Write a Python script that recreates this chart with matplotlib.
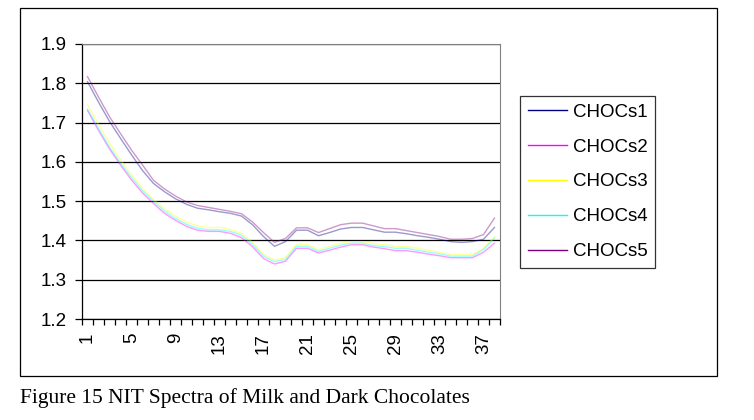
import numpy as np
import matplotlib.pyplot as plt
from matplotlib.patches import Rectangle
from matplotlib.lines import Line2D

plt.rcParams['font.family'] = ['Liberation Sans', 'DejaVu Sans']

# kategorier langs x-aksen
categories = list(range(1, 39))

# måleserier lest av figuren
chocs1 = [1.804, 1.752, 1.703, 1.660, 1.618, 1.578, 1.545, 1.524, 1.506, 1.492,
          1.482, 1.478, 1.473, 1.469, 1.462, 1.440, 1.410, 1.385, 1.397, 1.426,
          1.426, 1.412, 1.420, 1.429, 1.433, 1.433, 1.427, 1.421, 1.421, 1.417,
          1.412, 1.408, 1.403, 1.397, 1.395, 1.397, 1.403, 1.433]
chocs2 = [1.731, 1.680, 1.633, 1.592, 1.554, 1.521, 1.494, 1.469, 1.451, 1.436,
          1.426, 1.423, 1.423, 1.418, 1.407, 1.384, 1.354, 1.340, 1.347, 1.380,
          1.380, 1.368, 1.375, 1.383, 1.389, 1.389, 1.383, 1.379, 1.374, 1.374,
          1.370, 1.365, 1.361, 1.356, 1.356, 1.356, 1.370, 1.393]
chocs3 = [1.745, 1.695, 1.648, 1.605, 1.567, 1.533, 1.504, 1.481, 1.462, 1.447,
          1.437, 1.433, 1.433, 1.428, 1.418, 1.395, 1.365, 1.350, 1.357, 1.390,
          1.390, 1.376, 1.385, 1.393, 1.397, 1.397, 1.392, 1.389, 1.385, 1.385,
          1.380, 1.375, 1.370, 1.365, 1.364, 1.364, 1.380, 1.409]
chocs4 = [1.734, 1.685, 1.638, 1.597, 1.560, 1.527, 1.500, 1.475, 1.456, 1.441,
          1.431, 1.427, 1.427, 1.423, 1.413, 1.390, 1.360, 1.346, 1.352, 1.385,
          1.385, 1.372, 1.380, 1.388, 1.393, 1.393, 1.387, 1.384, 1.380, 1.380,
          1.375, 1.370, 1.366, 1.360, 1.360, 1.360, 1.377, 1.406]
chocs5 = [1.817, 1.765, 1.715, 1.672, 1.630, 1.592, 1.553, 1.531, 1.513, 1.498,
          1.489, 1.484, 1.479, 1.474, 1.468, 1.447, 1.420, 1.395, 1.405, 1.432,
          1.432, 1.420, 1.430, 1.440, 1.444, 1.444, 1.437, 1.430, 1.430, 1.425,
          1.420, 1.415, 1.410, 1.403, 1.403, 1.405, 1.415, 1.457]

series = [chocs1, chocs2, chocs3, chocs4, chocs5]
names = ['CHOCs1', 'CHOCs2', 'CHOCs3', 'CHOCs4', 'CHOCs5']
colors = ['#000080', '#ff00ff', '#ffff00', '#00ffff', '#800080']

W, H = 754, 420
fs = 13.5
fig = plt.figure(figsize=(W / 100, H / 100), dpi=100)

# ytre ramme rundt diagrammet
fig.patches.append(Rectangle((20 / W, 1 - 376 / H), 697 / W, 368 / H,
                             transform=fig.transFigure, fill=False,
                             edgecolor='black', lw=0.9))

ax = fig.add_axes([82 / W, 1 - 319 / H, 418 / W, 275 / H])
x = np.arange(len(categories))
for vals, col in zip(series, colors):
    ax.plot(x, vals, color=col, lw=1.0, alpha=0.4)

ax.set_xlim(-0.5, len(categories) - 0.5)
ax.set_ylim(1.2, 1.9)

yt = np.arange(1.2, 1.91, 0.1)
ax.set_yticks(yt)
ax.set_yticklabels(['%.1f' % v for v in yt], fontsize=fs)
ax.yaxis.grid(True, color='black', lw=0.9)
ax.set_axisbelow(True)
ax.tick_params(axis='y', direction='out', length=5, width=0.9, pad=6)

# skillestreker mellom kategoriene, etiketter på hver fjerde
ax.set_xticks(np.arange(-0.5, len(categories), 1))
ax.set_xticklabels([])
ax.tick_params(axis='x', which='major', direction='out', length=4, width=0.9)
ax.set_xticks(x[::4], minor=True)
ax.set_xticklabels([str(c) for c in categories[::4]], minor=True,
                   rotation=90, fontsize=fs)
ax.tick_params(axis='x', which='minor', length=0, pad=10)

for s in ['top', 'right']:
    ax.spines[s].set_color('#808080')
for s in ['left', 'bottom']:
    ax.spines[s].set_color('black')
    ax.spines[s].set_linewidth(0.9)

handles = [Line2D([], [], color=c, lw=1.0) for c in colors]
leg = fig.legend(handles, names, loc='upper left',
                 bbox_to_anchor=(520 / W, 1 - 96 / H), fontsize=fs,
                 frameon=True, fancybox=False, edgecolor='black',
                 handlelength=2.1, handletextpad=0.3, labelspacing=0.95,
                 borderpad=0.4, borderaxespad=0)
leg.get_frame().set_linewidth(0.9)

fig.text(20 / W, 1 - 403 / H, 'Figure 15 NIT Spectra of Milk and Dark Chocolates',
         family='Liberation Serif', fontsize=15.5, va='baseline')

fig.savefig('out.png', dpi=100)
